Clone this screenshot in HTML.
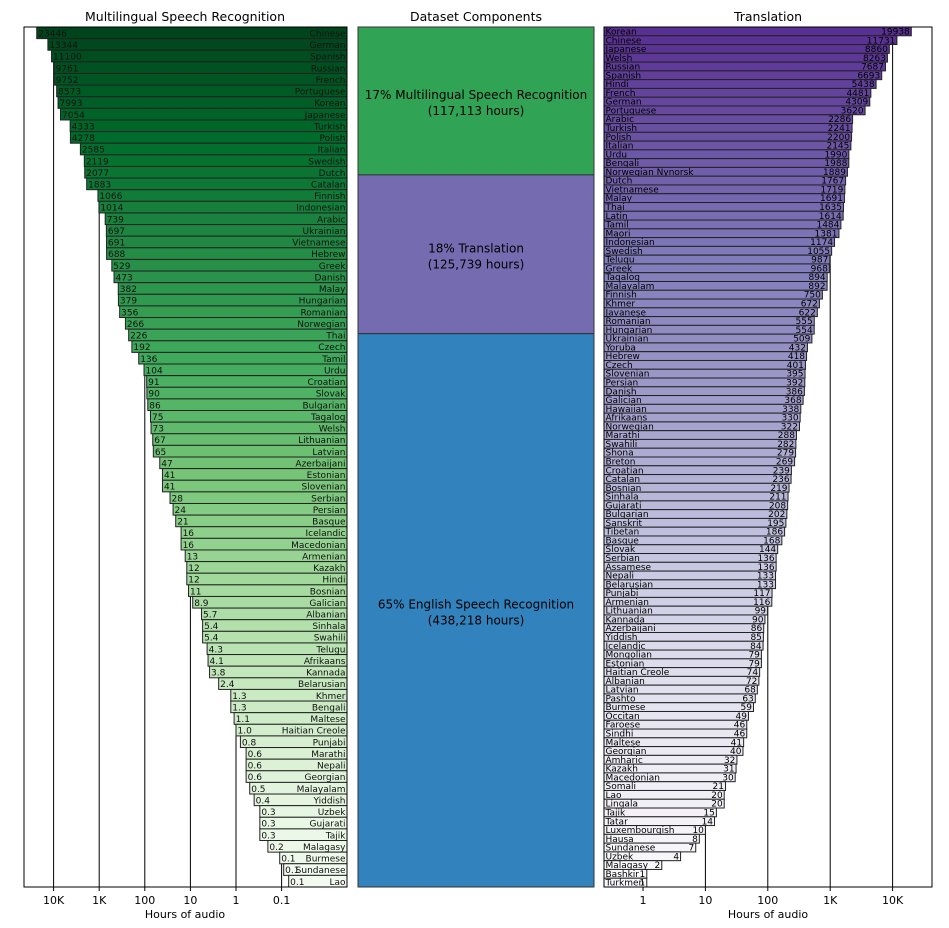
<!DOCTYPE html>
<html><head><meta charset="utf-8"><style>
body{margin:0;background:#fff;}
svg{display:block;font-family:"DejaVu Sans","Liberation Sans",sans-serif;}
</style></head><body>
<svg id="c" width="949" height="928" viewBox="0 0 949 928">
<text x="185" y="21" font-size="12.5" text-anchor="middle">Multilingual Speech Recognition</text>
<text x="476" y="21" font-size="12.5" text-anchor="middle">Dataset Components</text>
<text x="768" y="21" font-size="12.5" text-anchor="middle">Translation</text>
<g id="left"></g>
<g id="mid"></g>
<g id="right"></g>
</svg>
<script>
const asrLangs=["Chinese","German","Spanish","Russian","French","Portuguese","Korean","Japanese","Turkish","Polish","Italian","Swedish","Dutch","Catalan","Finnish","Indonesian","Arabic","Ukrainian","Vietnamese","Hebrew","Greek","Danish","Malay","Hungarian","Romanian","Norwegian","Thai","Czech","Tamil","Urdu","Croatian","Slovak","Bulgarian","Tagalog","Welsh","Lithuanian","Latvian","Azerbaijani","Estonian","Slovenian","Serbian","Persian","Basque","Icelandic","Macedonian","Armenian","Kazakh","Hindi","Bosnian","Galician","Albanian","Sinhala","Swahili","Telugu","Afrikaans","Kannada","Belarusian","Khmer","Bengali","Maltese","Haitian Creole","Punjabi","Marathi","Nepali","Georgian","Malayalam","Yiddish","Uzbek","Gujarati","Tajik","Malagasy","Burmese","Sundanese","Lao"];
const asrHours=[23446,13344,11100,9761,9752,8573,7993,7054,4333,4278,2585,2119,2077,1883,1066,1014,739,697,691,688,529,473,382,379,356,266,226,192,136,104,91,90,86,75,73,67,65,47,41,41,28,24,21,16,16,13,12,12,11,8.9,5.7,5.4,5.4,4.3,4.1,3.8,2.4,1.3,1.3,1.1,1.0,0.8,0.6,0.6,0.6,0.5,0.4,0.3,0.3,0.3,0.2,0.11,0.09,0.07];
const trLangs=["Korean","Chinese","Japanese","Welsh","Russian","Spanish","Hindi","French","German","Portuguese","Arabic","Turkish","Polish","Italian","Urdu","Bengali","Norwegian Nynorsk","Dutch","Vietnamese","Malay","Thai","Latin","Tamil","Maori","Indonesian","Swedish","Telugu","Greek","Tagalog","Malayalam","Finnish","Khmer","Javanese","Romanian","Hungarian","Ukrainian","Yoruba","Hebrew","Czech","Slovenian","Persian","Danish","Galician","Hawaiian","Afrikaans","Norwegian","Marathi","Swahili","Shona","Breton","Croatian","Catalan","Bosnian","Sinhala","Gujarati","Bulgarian","Sanskrit","Tibetan","Basque","Slovak","Serbian","Assamese","Nepali","Belarusian","Punjabi","Armenian","Lithuanian","Kannada","Azerbaijani","Yiddish","Icelandic","Mongolian","Estonian","Haitian Creole","Albanian","Latvian","Pashto","Burmese","Occitan","Faroese","Sindhi","Maltese","Georgian","Amharic","Kazakh","Macedonian","Somali","Lao","Lingala","Tajik","Tatar","Luxembourgish","Hausa","Sundanese","Uzbek","Malagasy","Bashkir","Turkmen"];
const trHours=[19938,11731,8860,8263,7687,6693,5438,4481,4309,3620,2286,2241,2200,2145,1990,1988,1889,1767,1719,1691,1635,1614,1484,1381,1174,1055,987,968,894,892,750,672,622,555,554,509,432,418,401,395,392,386,368,338,330,322,288,282,279,269,239,236,219,211,208,202,195,186,168,144,136,136,133,133,117,116,99,90,86,85,84,79,79,74,72,68,63,59,49,46,46,41,40,32,31,30,21,20,20,15,14,10,8,7,4,2,1,1];
const compNames=["Multilingual Speech Recognition","Translation","English Speech Recognition"];
const compHours=[117113,125739,438218];
const compPercents=[17,18,65];
const compColors=["#31a354","#756bb1","#3182bd"];
const asrTicks=[10000,1000,100,10,1,0.1];
const asrTickLabels=["10K","1K","100","10","1","0.1"];
const trTicks=[1,10,100,1000,10000];
const trTickLabels=["1","10","100","1K","10K"];

const NS="http://www.w3.org/2000/svg";
function mk(p,tag,attrs){const e=document.createElementNS(NS,tag);for(const k in attrs)e.setAttribute(k,attrs[k]);p.appendChild(e);return e;}
function lerpCol(stops,t){t=Math.max(0,Math.min(1,t));const n=stops.length-1;const i=Math.min(n-1,Math.floor(t*n));const f=t*n-i;
 const a=stops[i],b=stops[i+1];const h=s=>[1,3,5].map(j=>parseInt(s.substr(j,2),16));const A=h(a),B=h(b);
 return "rgb("+A.map((v,j)=>Math.round(v+(B[j]-v)*f)).join(",")+")";}
const greens=["#f7fcf5","#e5f5e0","#c7e9c0","#a1d99b","#74c476","#41ab5d","#238b45","#006d2c","#00441b"];
const purples=["#fcfbfd","#efedf5","#dadaeb","#bcbddc","#9e9ac8","#807dba","#6a51a3","#54278f","#3f007d"];
const fmt=v=>v>=10?String(Math.round(v)):v.toFixed(1);
const TOP=27,BOT=887;

// left panel
const L=document.getElementById('left');
const lx0=24,lx1=347;
const xL=v=>236-45.6*Math.log10(v);
asrTicks.forEach((t,i)=>{const x=xL(t);
 const g=mk(L,'line',{x1:x,x2:x,y1:TOP,y2:BOT+4,stroke:'#000','stroke-width':1});
 
 
 const tx=mk(L,'text',{x:x,y:904,'font-size':11,'text-anchor':'middle'});tx.textContent=asrTickLabels[i];
 
 
});
const lh=(BOT-TOP)/asrLangs.length;
asrLangs.forEach((n,i)=>{const y=TOP+i*lh;const x=xL(asrHours[i]);
 const t=1-0.97*i/(asrLangs.length-1);
 const r=mk(L,'rect',{x:x,y:y,width:lx1-x,height:lh,fill:lerpCol(greens,t),stroke:'#222','stroke-width':1});
 
 
 const a=mk(L,'text',{x:x+1.5,y:y+lh-2.2,'font-size':9,fill:'#111'});a.textContent=fmt(asrHours[i]);
 
 
 const b=mk(L,'text',{x:lx1-1.5,y:y+lh-2.2,'font-size':9,'text-anchor':'end',fill:'#111'});b.textContent=n;
 
 
});
const lf=mk(L,'rect',{x:lx0,y:TOP,width:lx1-lx0,height:BOT-TOP,fill:'none',stroke:'#000','stroke-width':1});


const lt=mk(L,'text',{x:185,y:918,'font-size':11,'text-anchor':'middle'});lt.textContent="Hours of audio";



// middle panel
const M=document.getElementById('mid');
const total=compHours.reduce((a,b)=>a+b,0);
let yy=TOP;
compNames.forEach((n,i)=>{const h=(BOT-TOP)*compHours[i]/total;
 const r=mk(M,'rect',{x:358,y:yy,width:236,height:h,fill:compColors[i],stroke:'#333','stroke-width':1});
 
 
 const a=mk(M,'text',{x:476,y:yy+h/2-2,'font-size':12,'text-anchor':'middle'});a.textContent=compPercents[i]+"% "+n;
 
 
 const b=mk(M,'text',{x:476,y:yy+h/2+14,'font-size':12,'text-anchor':'middle'});b.textContent="("+compHours[i].toLocaleString('en-US')+" hours)";
 
 
 yy+=h;});

// right panel
const R=document.getElementById('right');
const rx0=604,rx1=932;
const xR=v=>643+62.4*Math.log10(v);
trTicks.forEach((t,i)=>{const x=xR(t);
 const g=mk(R,'line',{x1:x,x2:x,y1:TOP,y2:BOT+4,stroke:'#000','stroke-width':1});
 
 
 const tx=mk(R,'text',{x:x,y:904,'font-size':11,'text-anchor':'middle'});tx.textContent=trTickLabels[i];
 
 
});
const rh=(BOT-TOP)/trLangs.length;
trLangs.forEach((n,i)=>{const y=TOP+i*rh;const x=xR(Math.max(trHours[i],1.15));
 const t=0.85-0.83*i/(trLangs.length-1);
 const r=mk(R,'rect',{x:rx0,y:y,width:x-rx0,height:rh,fill:lerpCol(purples,t),stroke:'#222','stroke-width':1});
 
 
 const b=mk(R,'text',{x:rx0+1.5,y:y+rh-1.3,'font-size':9});b.textContent=n;
 
 
 const a=mk(R,'text',{x:x-1.5,y:y+rh-1.3,'font-size':9,'text-anchor':'end'});a.textContent=String(trHours[i]);
 
 
});
const rf=mk(R,'rect',{x:rx0,y:TOP,width:rx1-rx0,height:BOT-TOP,fill:'none',stroke:'#000','stroke-width':1});


const rt=mk(R,'text',{x:768,y:918,'font-size':11,'text-anchor':'middle'});rt.textContent="Hours of audio";


</script>
</body></html>
